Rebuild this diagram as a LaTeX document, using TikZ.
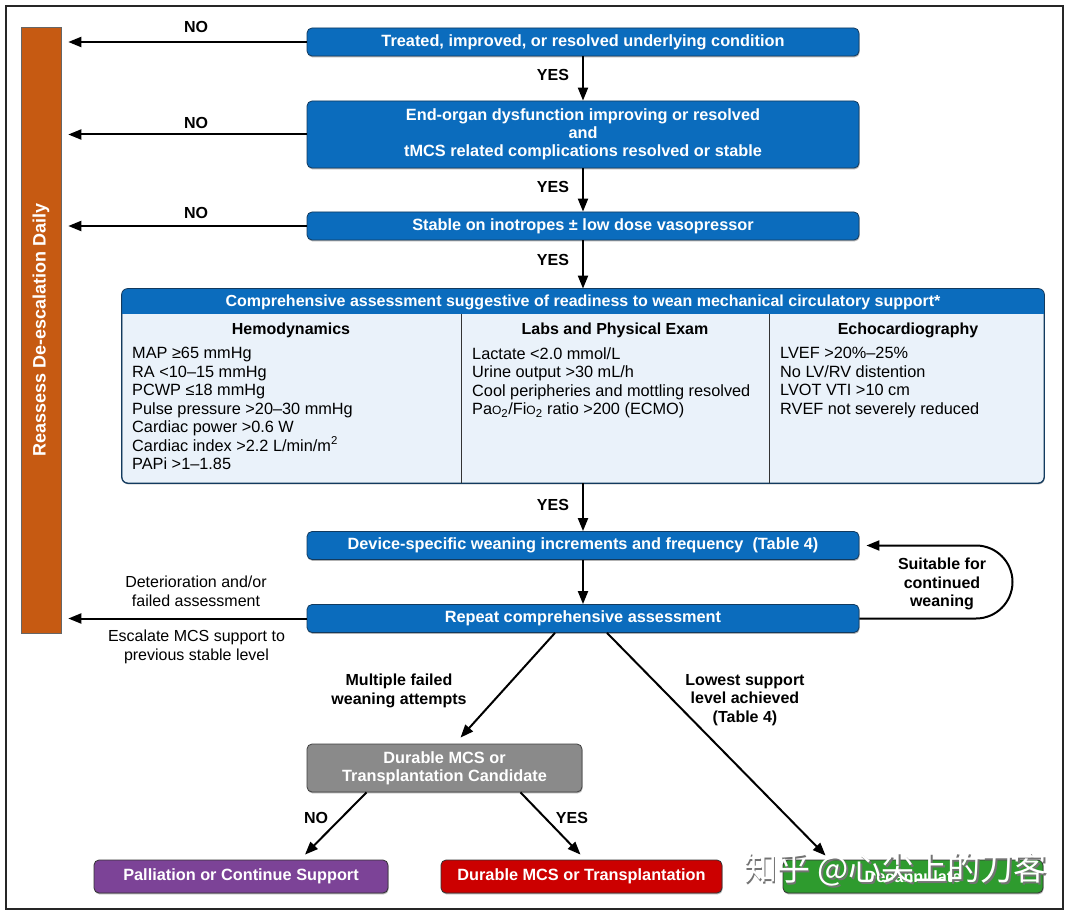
\documentclass[tikz,border=0pt]{standalone}
\usepackage{fontspec}
\setmainfont{Liberation Sans}
\newfontfamily\cjkfont{Noto Sans CJK SC}
\usetikzlibrary{arrows.meta,shadows,calc}
\definecolor{mblue}{HTML}{0B6CBD}
\definecolor{mbord}{HTML}{123A5E}
\definecolor{mlight}{HTML}{EAF2FA}
\definecolor{morange}{HTML}{C65A12}
\definecolor{mgray}{HTML}{8A8A8A}
\definecolor{mpurple}{HTML}{7C4397}
\definecolor{mred}{HTML}{CC0000}
\definecolor{mgreen}{HTML}{2E9B2E}
\begin{document}
\begin{tikzpicture}[x=1pt,y=-1pt,
  box/.style={draw=mbord, line width=0.8pt, fill=mblue, rounded corners=5pt, text=white,
    font=\bfseries\fontsize{16.3}{18}\selectfont, align=center, inner sep=0pt,
    minimum width=552pt, minimum height=28pt,
    drop shadow={shadow xshift=0.6pt, shadow yshift=-1.4pt, opacity=0.6}},
  endbox/.style={box, draw=black!80, minimum height=33pt},
  arr/.style={line width=2pt, -{Triangle[length=13pt,width=10pt]}},
  lbl/.style={font=\bfseries\fontsize{16}{18.5}\selectfont, align=center, inner sep=0pt},
  note/.style={font=\fontsize{16}{18.5}\selectfont, align=center, inner sep=0pt},
  body/.style={font=\fontsize{16.3}{18.5}\selectfont, align=left, inner sep=0pt, anchor=north west},
]
\useasboundingbox (0,0) rectangle (1069,912);
\fill[white] (0,0) rectangle (1069,912);
\draw[line width=1.6pt, black!85] (6,6) rectangle (1063,909);

% left bar
\node[fill=morange, draw=black!60, line width=0.6pt, minimum width=40pt, minimum height=606pt, inner sep=0pt] (bar) at (41,330) {};
\node[rotate=90, text=white, font=\bfseries\fontsize{18}{20}\selectfont] (bartext) at (bar.center) {Reassess De-escalation Daily};

% top boxes
\node[box] (b1) at (583,42) {Treated, improved, or resolved underlying condition};
\node[box, minimum height=67pt] (b2) at (583,134.5) {End-organ dysfunction improving or resolved\\and\\tMCS related complications resolved or stable};
\node[box] (b3) at (583,226) {Stable on inotropes ± low dose vasopressor};

% assessment
\node[draw=mbord, line width=0.8pt, fill=mlight, rounded corners=6pt, minimum width=922pt, minimum height=194pt, inner sep=0pt,
  drop shadow={shadow xshift=0.6pt, shadow yshift=-1.4pt, opacity=0.6}] (assess) at (583,386) {};
\begin{scope}
  \clip[rounded corners=6pt] (assess.north west) rectangle (assess.south east);
  \fill[mblue] (122,289) rectangle (1044,314);
\end{scope}
\draw[mbord, line width=0.8pt, rounded corners=6pt] (assess.north west) rectangle (assess.south east);
\draw[black!80, line width=0.8pt] (461,314) -- (461,483);
\draw[black!80, line width=0.8pt] (769,314) -- (769,483);
\node[lbl, text=white] (hdr) at (583,302) {Comprehensive assessment suggestive of readiness to wean mechanical circulatory support*};
\node[lbl] (h1) at (291,330) {Hemodynamics};
\node[lbl] (h2) at (615,330) {Labs and Physical Exam};
\node[lbl] (h3) at (908,330) {Echocardiography};
\node[body] (c1) at (132,347) {MAP ≥65 mmHg\\RA <10–15 mmHg\\PCWP ≤18 mmHg\\Pulse pressure >20–30 mmHg\\Cardiac power >0.6 W\\Cardiac index >2.2 L/min/m\textsuperscript{2}\\PAPi >1–1.85};
\node[body] (c2) at (472,347) {Lactate <2.0 mmol/L\\Urine output >30 mL/h\\Cool peripheries and mottling resolved\\Pa{\fontsize{12}{12}\selectfont O}\textsubscript{2}/Fi{\fontsize{12}{12}\selectfont O}\textsubscript{2} ratio >200 (ECMO)};
\node[body] (c3) at (780,347) {LVEF >20\%–25\%\\No LV/RV distention\\LVOT VTI >10 cm\\RVEF not severely reduced};

% weaning boxes
\node[box] (b4) at (583,545.5) {Device-specific weaning increments and frequency\ \ (Table 4)};
\node[box] (b5) at (583,618.5) {Repeat comprehensive assessment};

% outcome boxes
\node[box, fill=mgray, draw=black!75, minimum width=275pt, minimum height=48pt] (gray) at (444.5,768) {Durable MCS or\\Transplantation Candidate};
\node[endbox, fill=mpurple, minimum width=294pt] (purple) at (241,876.5) {Palliation or Continue Support};
\node[endbox, fill=mred, minimum width=281pt] (red) at (581.5,876.5) {Durable MCS or Transplantation};
\node[endbox, fill=mgreen, minimum width=260pt] (green) at (913,876.5) {Decannulate};

% vertical arrows
\draw[arr] (b1.south) -- (b2.north);
\draw[arr] (b2.south) -- (b3.north);
\draw[arr] (b3.south) -- (assess.north);
\draw[arr] (assess.south) -- (b4.north);
\draw[arr] (b4.south) -- (b5.north);
\node[lbl] (y1) at (553,75) {YES};
\node[lbl] (y2) at (553,187) {YES};
\node[lbl] (y3) at (553,260) {YES};
\node[lbl] (y4) at (553,505) {YES};

% NO arrows to bar
\draw[arr] (b1.west) -- ($(bar.east |- b1.west)+(7,0)$);
\draw[arr] (b2.west) -- ($(bar.east |- b2.west)+(7,0)$);
\draw[arr] (b3.west) -- ($(bar.east |- b3.west)+(7,0)$);
\draw[arr] (b5.west) -- ($(bar.east |- b5.west)+(7,0)$);
\node[lbl] (n1) at (196,27) {NO};
\node[lbl] (n2) at (196,123) {NO};
\node[lbl] (n3) at (196,213) {NO};
\node[note] (det) at (196,591.5) {Deterioration and/or\\failed assessment};
\node[note] (esc) at (196.5,647) {Escalate MCS support to\\previous stable level};

% loop
\draw[arr] (b5.east) -- (976,618.5) arc[start angle=90, end angle=-90, radius=36.5] -- ([xshift=7pt]b4.east);
\node[lbl] (suit) at (942,584) {Suitable for\\continued\\weaning};

% diagonals
\draw[arr] ($(b5.south)+(-28,0)$) -- ($(gray.north)+(16,-6)$);
\draw[arr] ($(b5.south)+(24,0)$) -- ($(green.north west)+(43,-4)$);
\node[lbl] (mult) at (399,691) {Multiple failed\\weaning attempts};
\node[lbl] (low) at (745,700) {Lowest support\\level achieved\\(Table 4)};
\draw[arr] ($(gray.south)+(-78,0)$) -- ($(purple.north)+(64,-5)$);
\draw[arr] ($(gray.south)+(76,0)$) -- ($(red.north)+(-1,-5)$);
\node[lbl] (n4) at (316,818) {NO};
\node[lbl] (y5) at (572,818) {YES};

% watermark
\node[font=\cjkfont\fontsize{33}{33}\selectfont, text=black!55, inner sep=0pt] (wmshadow) at (897,871) {知乎 @心尖上的刀客};
\node[font=\cjkfont\fontsize{33}{33}\selectfont, text=white, inner sep=0pt] (wm) at (895.5,869.5) {知乎 @心尖上的刀客};
\end{tikzpicture}
\end{document}
